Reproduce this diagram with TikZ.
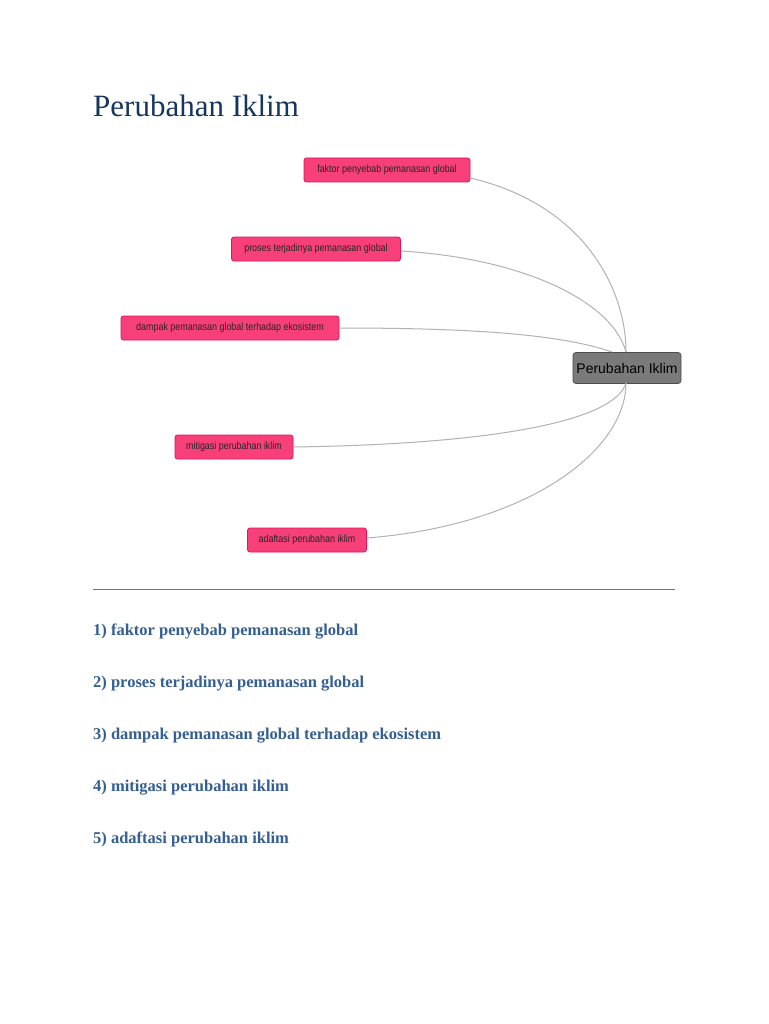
\documentclass[tikz,border=0pt]{standalone}
\usepackage{fontspec}
\setmainfont{Liberation Serif}
\newfontfamily\narrow[FakeStretch=0.85]{Liberation Sans}
\newfontfamily\nsans{Liberation Sans}
\definecolor{titleblue}{HTML}{17365D}
\definecolor{listblue}{HTML}{365F91}
\definecolor{pinkfill}{HTML}{F7407A}
\definecolor{pinkdraw}{HTML}{E0155A}
\begin{document}
\begin{tikzpicture}[x=1pt,y=-1pt,
  topic/.style={draw=pinkdraw,fill=pinkfill,rounded corners=2.5pt,line width=0.8pt,inner sep=0pt,minimum height=24pt,font=\narrow\fontsize{10.5}{12}\selectfont,text=black!85},
  hub/.style={draw=black!70,fill=black!52,rounded corners=3pt,line width=0.8pt,inner sep=0pt,minimum width=108pt,minimum height=31pt,font=\nsans\fontsize{14}{16}\selectfont},
  link/.style={draw=black!30,line width=1pt},
  item/.style={anchor=base west,inner sep=0pt,text=listblue,font=\bfseries\fontsize{16.5}{20}\selectfont}]
\useasboundingbox[fill=white] (0,0) rectangle (768,1024);
\node[anchor=base west,inner sep=0pt,text=titleblue,font=\fontsize{31}{36}\selectfont] (title) at (93,117) {Perubahan Iklim};
\node[hub] (c) at (627,368) {Perubahan Iklim};
\node[topic,minimum width=166pt] (n1) at (387,170) {faktor penyebab pemanasan global};
\node[topic,minimum width=169pt] (n2) at (316,249) {proses terjadinya pemanasan global};
\node[topic,minimum width=218pt] (n3) at (230,328) {dampak pemanasan global terhadap ekosistem};
\node[topic,minimum width=118pt] (n4) at (234,447) {mitigasi perubahan iklim};
\node[topic,minimum width=119pt] (n5) at (307,540) {adaftasi perubahan iklim};
\coordinate (ct) at (626,352);
\coordinate (cb) at (626,383);
\coordinate (ct3) at (612,352);
\draw[link] (n1.east) ++(0,8) .. controls (585,205) and (626,290) .. (ct);
\draw[link] (n2.east) ++(0,2) .. controls (520,258) and (612,300) .. (ct);
\draw[link] (n3.east) .. controls (470,328) and (560,334) .. (ct3);
\draw[link] (n4.east) .. controls (500,444) and (615,420) .. (cb);
\draw[link] (n5.east) ++(0,-2) .. controls (530,525) and (626,450) .. (cb);
\coordinate (l1) at (93,589);
\coordinate (l2) at (675,589);
\draw[black!55,line width=0.8pt] (l1) -- (l2);
\node[item] (i1) at (93,635) {1) faktor penyebab pemanasan global};
\node[item] (i2) at (93,687) {2) proses terjadinya pemanasan global};
\node[item] (i3) at (93,739) {3) dampak pemanasan global terhadap ekosistem};
\node[item] (i4) at (93,791) {4) mitigasi perubahan iklim};
\node[item] (i5) at (93,843) {5) adaftasi perubahan iklim};
\end{tikzpicture}
\end{document}
